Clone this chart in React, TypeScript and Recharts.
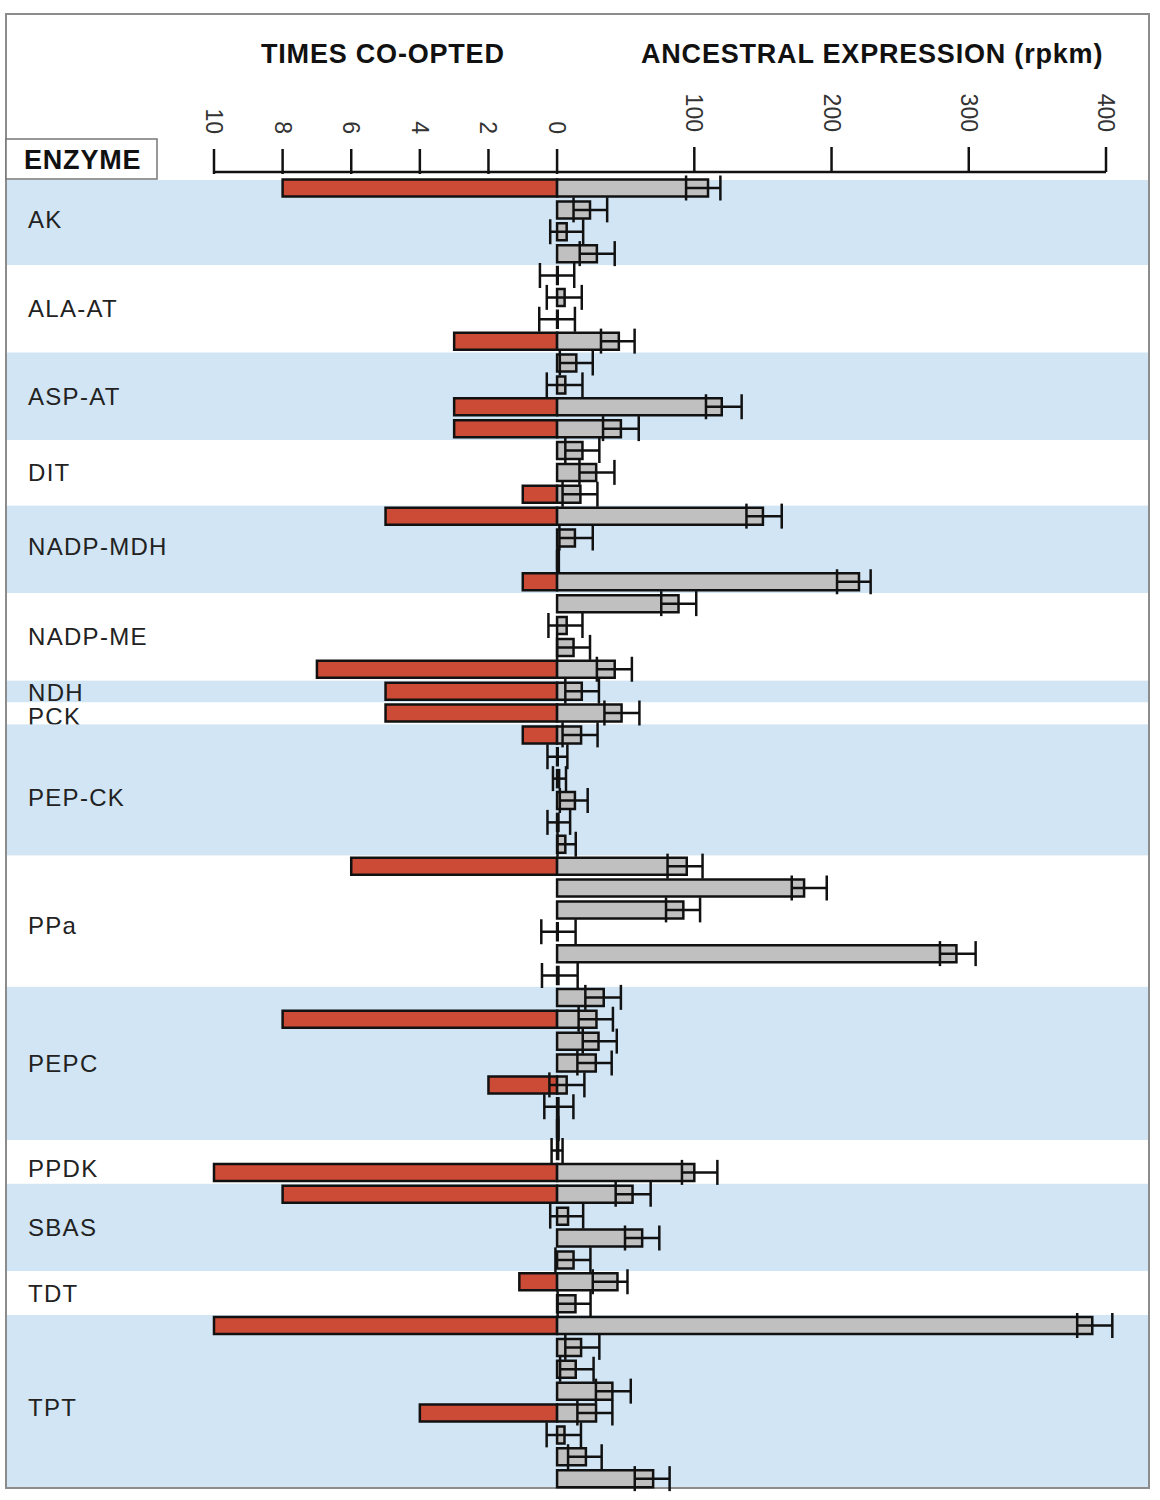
import React from "react";
import {
  ComposedChart,
  Bar,
  XAxis,
  YAxis,
  ErrorBar,
  ReferenceArea,
} from "recharts";

// enzymes, top to bottom, and how many gene rows each one has
const enzymes = [
  "AK", "ALA-AT", "ASP-AT", "DIT", "NADP-MDH", "NADP-ME", "NDH", "PCK",
  "PEP-CK", "PPa", "PEPC", "PPDK", "SBAS", "TDT", "TPT",
];
const rowsPerEnzyme = [4, 4, 4, 3, 4, 4, 1, 1, 6, 6, 7, 2, 4, 2, 8];

// times co-opted (left, red)
const timesCoopted = [
  8, 0, 0, 0,
  0, 0, 0, 3,
  0, 0, 3, 3,
  0, 0, 1,
  5, 0, 0, 1,
  0, 0, 0, 7,
  5,
  5,
  1, 0, 0, 0, 0, 0,
  6, 0, 0, 0, 0, 0,
  0, 8, 0, 0, 2, 0, 0,
  0, 10,
  8, 0, 0, 0,
  1.1, 0,
  10, 0, 0, 0, 4, 0, 0, 0,
];

// ancestral expression in rpkm (right, grey)
const expression = [
  110, 24, 7, 29,
  0.5, 5.5, 0.5, 45,
  14, 6, 120, 46.5,
  18.5, 28.5, 17,
  150, 13, 0.8, 220,
  88.5, 7, 12, 42,
  18,
  47,
  17.5, 0.5, 1.5, 13, 1, 6,
  94.5, 180, 92, 0.5, 291, 1,
  34, 28.7, 30.2, 28.2, 7, 1, 0.8,
  0.8, 100,
  55, 8, 62, 12,
  44, 13.4,
  390, 17.5, 13.6, 40.3, 28.4, 5.4, 21, 70,
];

// error below / above the expression value
const errLow = [
  16, 12, 12, 12.5,
  13, 13, 13.5, 13,
  12, 13.5, 11.5, 13,
  12.5, 12.2, 13,
  12, 11.3, 0.8, 16,
  12.6, 13.3, 12, 13,
  12,
  12.5,
  13.5, 7.5, 4.5, 11, 8, 5.7,
  14, 9, 12.6, 12, 12, 12,
  13.4, 13, 11.5, 13.4, 12.6, 10.3, 0.8,
  4.8, 9,
  12.3, 13, 12.5, 13.2,
  18, 13,
  11, 11.5, 11.4, 12, 13.6, 13, 13, 13.4,
];
const errHigh = [
  9, 12.5, 12, 13,
  12, 12.5, 12.5, 11.5,
  12, 12.5, 14.5, 13,
  12.3, 13.3, 12.4,
  13.7, 13, 0.5, 8.5,
  12.9, 11.5, 12, 12.5,
  12.5,
  13,
  12, 7, 5, 9.3, 8.5, 7.6,
  11.5, 16.5, 12.2, 13, 14, 14,
  12.5, 12, 13.3, 11.6, 12.9, 10.9, 0.3,
  3.2, 16.8,
  13.2, 11, 12.5, 12.3,
  7.3, 11,
  14.6, 13.3, 13, 13.4, 11.9, 12, 11.5, 12,
];

// the shared 0 is labelled once, by the co-opted axis
const coTicks = [0, 2, 4, 6, 8, 10];
const rpkmTicks = [100, 200, 300, 400];

type Row = { id: string; times: number; expr: number; err: [number, number] };

const rows: Row[] = [];
const groups: { name: string; first: string; last: string }[] = [];
let k = 0;
enzymes.forEach((name, g) => {
  const first = k;
  for (let j = 0; j < rowsPerEnzyme[g]; j++) {
    rows.push({
      id: `${name}-${j + 1}`,
      times: timesCoopted[k],
      expr: expression[k],
      err: [errLow[k], errHigh[k]],
    });
    k++;
  }
  groups.push({ name, first: rows[first].id, last: rows[k - 1].id });
});

const FONT = '"Liberation Sans", Arial, sans-serif';
const FRAME = { left: 6, top: 14, right: 1149, bottom: 1488 };
const BAND_TOP = 180;
const BAND_BOTTOM = 1487;
// the enzyme names sit a little off their band centre in the figure
const LABEL_NUDGE: Record<string, number> = {
  AK: -1.5,
  "NADP-MDH": -3,
  NDH: 1,
  PCK: 3.5,
  "PEP-CK": 7,
  PPa: 4,
  PPDK: 7,
  TPT: 4.5,
};

function AxisTick(props: any) {
  const { x, y, payload } = props;
  const ly = y - 15;
  return (
    <g>
      <line x1={x} y1={y} x2={x} y2={y + 25} stroke="#111" strokeWidth={2.5} />
      <text
        x={x}
        y={ly}
        transform={`rotate(90 ${x} ${ly})`}
        textAnchor="end"
        dominantBaseline="central"
        fontSize={23}
        fontFamily={FONT}
        fill="#333"
      >
        {payload.value}
      </text>
    </g>
  );
}

function Band(props: any) {
  const { y, height, name, shaded } = props;
  const top = Math.max(y, BAND_TOP);
  const bottom = Math.min(y + height, BAND_BOTTOM);
  return (
    <g>
      <rect
        x={FRAME.left + 1}
        y={top}
        width={FRAME.right - FRAME.left - 2}
        height={bottom - top}
        fill={shaded ? "#d1e5f4" : "#ffffff"}
      />
      <text
        x={28}
        y={y + height / 2 + (LABEL_NUDGE[name] || 0)}
        dominantBaseline="central"
        fontSize={24}
        letterSpacing={1.3}
        fontFamily={FONT}
        fill="#222"
      >
        {name}
      </text>
    </g>
  );
}

export default function App() {
  return (
    <div
      style={{
        position: "absolute",
        left: 0,
        top: 0,
        width: 1160,
        height: 1500,
        background: "#fff",
        fontFamily: FONT,
      }}
    >
      <svg
        width={1160}
        height={1500}
        style={{ position: "absolute", left: 0, top: 0 }}
      >
        <rect
          x={FRAME.left}
          y={FRAME.top}
          width={FRAME.right - FRAME.left}
          height={FRAME.bottom - FRAME.top}
          fill="#fff"
          stroke="#8c8c8c"
          strokeWidth={2}
        />
        <text x={261} y={63} fontSize={27} fontWeight="bold" letterSpacing={0.8} fill="#111">
          TIMES CO-OPTED
        </text>
        <text x={641} y={63} fontSize={27} fontWeight="bold" letterSpacing={0.8} fill="#111">
          ANCESTRAL EXPRESSION (rpkm)
        </text>
      </svg>

      <div style={{ position: "absolute", left: 0, top: 0 }}>
        <ComposedChart
          width={1160}
          height={1500}
          data={rows}
          layout="vertical"
          margin={{ top: 175.5, right: 54, bottom: 10, left: 214 }}
        >
          <YAxis yAxisId="red" type="category" dataKey="id" hide />
          <YAxis yAxisId="gray" type="category" dataKey="id" hide />
          <XAxis
            xAxisId="rpkm"
            type="number"
            orientation="top"
            domain={[-250, 400]}
            allowDataOverflow
            ticks={rpkmTicks}
            height={1}
            tickSize={29.5}
            tickMargin={0}
            tickLine={false}
            tick={AxisTick}
            axisLine={{ stroke: "#111", strokeWidth: 2.5, transform: "translate(0 -4.5)" }}
          />
          <XAxis
            xAxisId="co"
            type="number"
            orientation="top"
            domain={[-16, 10]}
            reversed
            ticks={coTicks}
            height={1}
            tickSize={28.5}
            tickMargin={0}
            tickLine={false}
            tick={AxisTick}
            axisLine={false}
          />

          {groups.map((g, i) => (
            <ReferenceArea
              key={g.name}
              xAxisId="rpkm"
              yAxisId="gray"
              y1={g.first}
              y2={g.last}
              ifOverflow="visible"
              shape={(p: any) => <Band {...p} name={g.name} shaded={i % 2 === 0} />}
            />
          ))}

          <Bar
            xAxisId="co"
            yAxisId="red"
            dataKey="times"
            barSize={17}
            fill="#cc4b37"
            stroke="#111"
            strokeWidth={2.5}
            isAnimationActive={false}
          />
          <Bar
            xAxisId="rpkm"
            yAxisId="gray"
            dataKey="expr"
            barSize={17}
            fill="#c0c0c0"
            stroke="#111"
            strokeWidth={2.5}
            isAnimationActive={false}
          >
            <ErrorBar
              dataKey="err"
              direction="x"
              width={12.5}
              stroke="#111"
              strokeWidth={2.5}
            />
          </Bar>
        </ComposedChart>
      </div>

      <svg
        width={160}
        height={50}
        style={{ position: "absolute", left: 0, top: 130 }}
      >
        <rect x={6} y={9} width={151} height={40} fill="#fff" stroke="#777" strokeWidth={1.5} />
        <text x={24} y={39} fontSize={27} fontWeight="bold" letterSpacing={0.8} fill="#111">
          ENZYME
        </text>
      </svg>
    </div>
  );
}
